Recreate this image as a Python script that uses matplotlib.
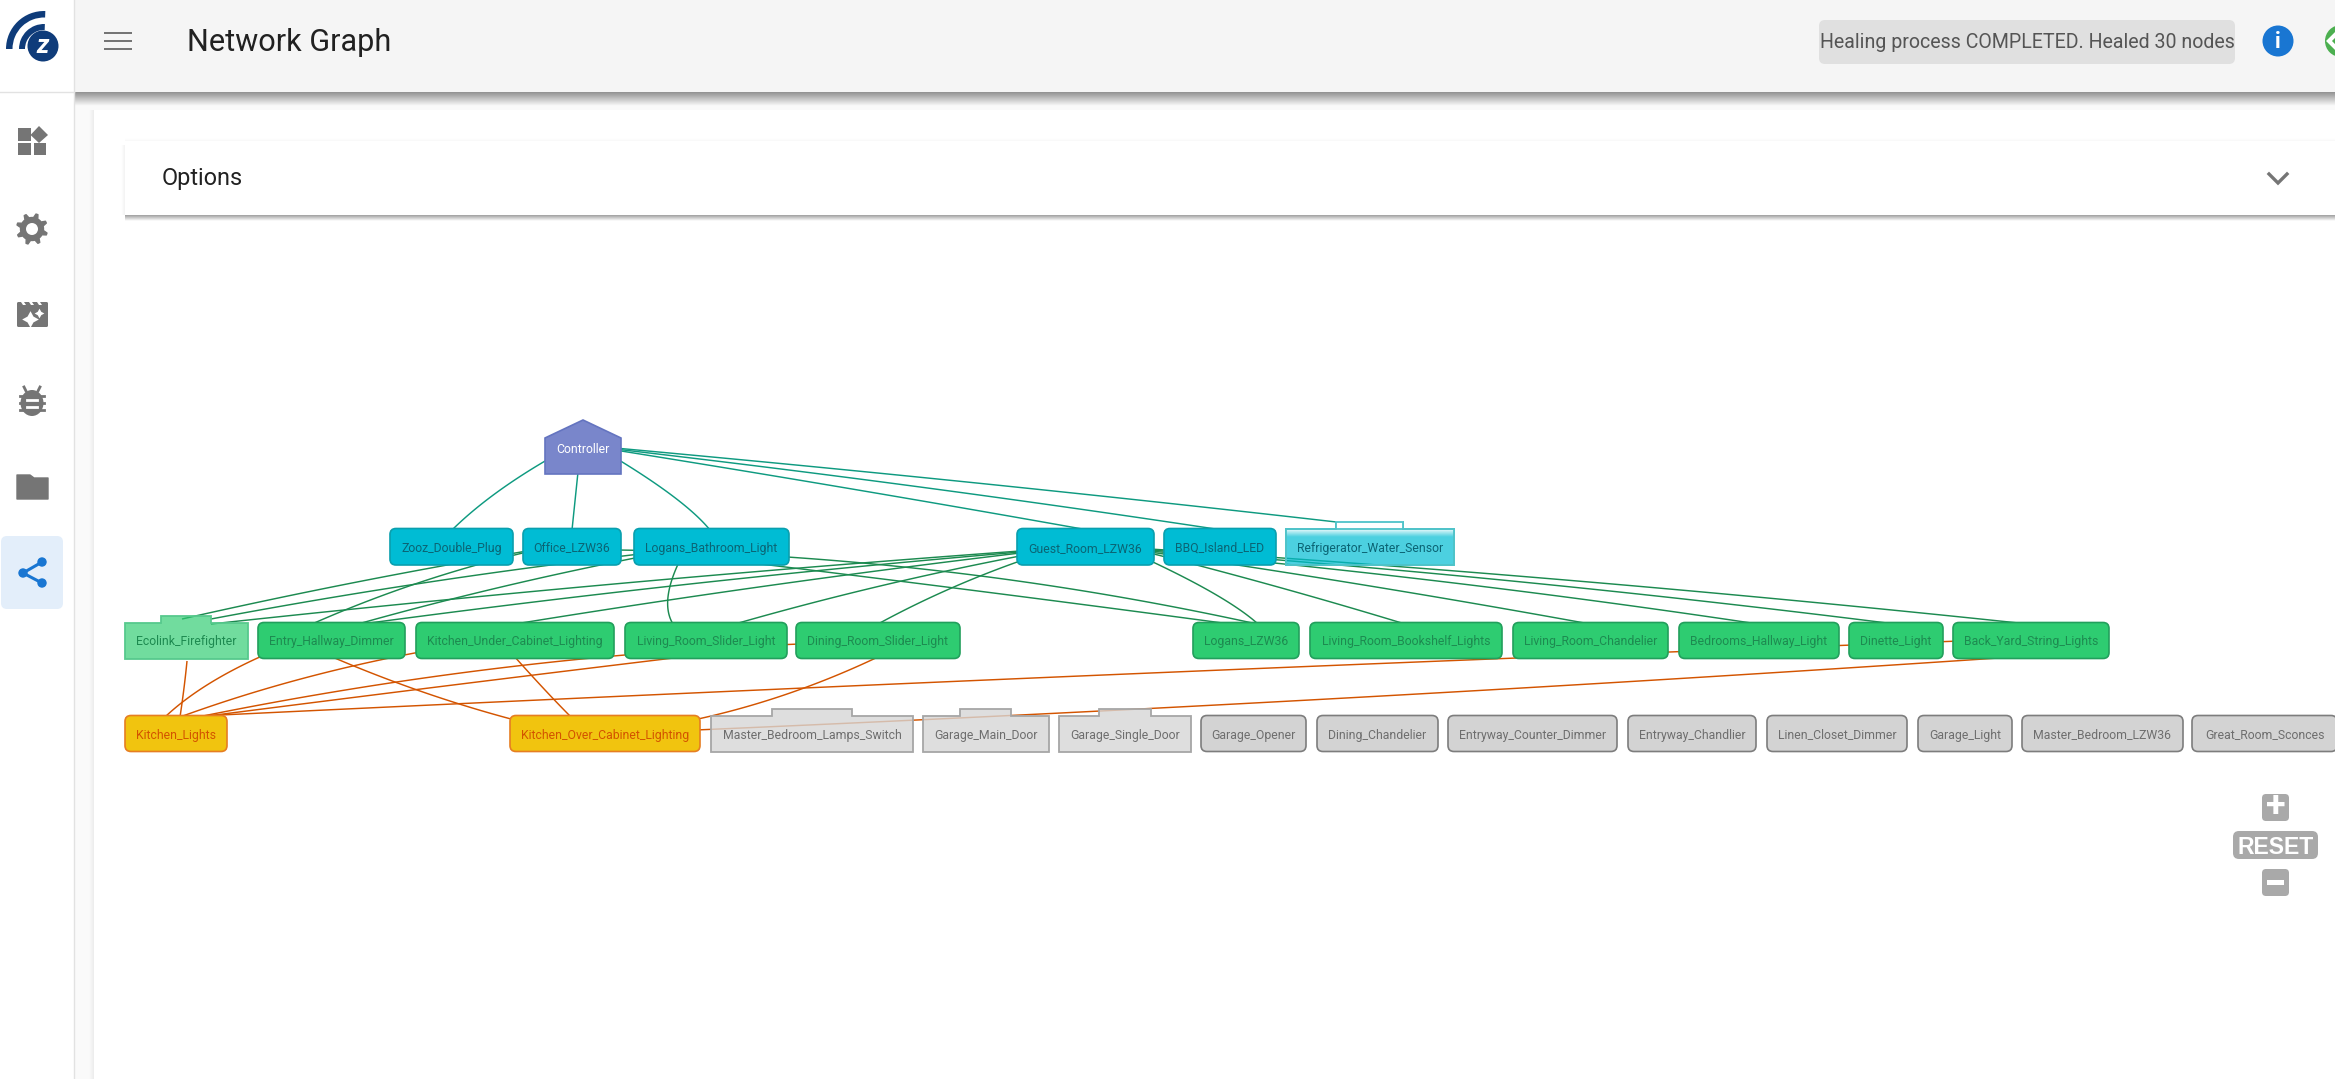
import numpy as np
import matplotlib
matplotlib.use("Agg")
import matplotlib.pyplot as plt
from matplotlib.patches import FancyBboxPatch, Rectangle, Polygon, Circle, Wedge, Ellipse

plt.rcParams['font.family'] = ['Roboto', 'DejaVu Sans']

W, H = 2335, 1079

# ---------- data ----------
ROW_Y = {1: (528.5, 565), 2: (622.5, 658.5), 3: (715.5, 751.5)}
NODE_NAMES = ["Zooz_Double_Plug", "Office_LZW36", "Logans_Bathroom_Light", "Guest_Room_LZW36",
              "BBQ_Island_LED", "Refrigerator_Water_Sensor",
              "Ecolink_Firefighter", "Entry_Hallway_Dimmer", "Kitchen_Under_Cabinet_Lighting",
              "Living_Room_Slider_Light", "Dining_Room_Slider_Light", "Logans_LZW36",
              "Living_Room_Bookshelf_Lights", "Living_Room_Chandelier", "Bedrooms_Hallway_Light",
              "Dinette_Light", "Back_Yard_String_Lights",
              "Kitchen_Lights", "Kitchen_Over_Cabinet_Lighting", "Master_Bedroom_Lamps_Switch",
              "Garage_Main_Door", "Garage_Single_Door", "Garage_Opener", "Dining_Chandelier",
              "Entryway_Counter_Dimmer", "Entryway_Chandlier", "Linen_Closet_Dimmer", "Garage_Light",
              "Master_Bedroom_LZW36", "Great_Room_Sconces"]
NODE_LEFT = [390, 523, 634, 1017, 1164, 1286,
             125, 258, 416, 625, 796, 1193, 1310, 1513, 1679, 1849, 1953,
             125, 510, 711, 923, 1059, 1201, 1317, 1448, 1628, 1767, 1918, 2022, 2192]
NODE_RIGHT = [513, 621, 789, 1154, 1276, 1454,
              248, 405, 614, 787, 960, 1299, 1502, 1668, 1839, 1943, 2109,
              227, 700, 913, 1049, 1191, 1306, 1438, 1617, 1756, 1907, 2012, 2183, 2337]
NODE_ROW = [1]*6 + [2]*11 + [3]*13
NODE_KIND = ["cyan"]*5 + ["cyanf"] + ["greenf"] + ["green"]*10 + ["yellow"]*2 + ["grayf"]*3 + ["gray"]*8
FOLDER_TAB = {"Refrigerator_Water_Sensor": (1336, 1403), "Ecolink_Firefighter": (161, 211),
              "Master_Bedroom_Lamps_Switch": (772, 852), "Garage_Main_Door": (960, 1011),
              "Garage_Single_Door": (1099, 1151)}

CTRL = "Controller"
# edges: kind, source, target, visible start, point halfway along, visible end
EDGES = [
    ("teal", CTRL, "Zooz_Double_Plug", (552, 457), (496, 493), (452, 530)),
    ("teal", CTRL, "Office_LZW36", (578, 472), (575, 501), (572, 530)),
    ("teal", CTRL, "Logans_Bathroom_Light", (614, 457), (674, 497), (710, 530)),
    ("teal", CTRL, "Guest_Room_LZW36", (615, 450), (852, 489), (1088, 530)),
    ("teal", CTRL, "BBQ_Island_LED", (615, 449), (920, 487), (1222, 530)),
    ("teal", CTRL, "Refrigerator_Water_Sensor", (615, 448), (996, 485), (1371, 526)),
    ("green", "Ecolink_Firefighter", "Office_LZW36", (182, 619), (352, 583), (527, 551)),
    ("green", "Entry_Hallway_Dimmer", "Office_LZW36", (312, 624), (418, 583), (527, 552)),
    ("green", "Ecolink_Firefighter", "Logans_Bathroom_Light", (211, 619), (423, 583), (640, 554)),
    ("green", "Entry_Hallway_Dimmer", "Logans_Bathroom_Light", (358, 624), (497, 588), (640, 557)),
    ("green", "Ecolink_Firefighter", "Guest_Room_LZW36", (211, 624), (614, 584), (1020, 551)),
    ("green", "Entry_Hallway_Dimmer", "Guest_Room_LZW36", (362, 624), (690, 584), (1020, 552)),
    ("green", "Kitchen_Under_Cabinet_Lighting", "Guest_Room_LZW36", (515, 624), (766, 586), (1020, 553)),
    ("green", "Living_Room_Slider_Light", "Guest_Room_LZW36", (735, 624), (876, 587), (1020, 556)),
    ("green", "Dining_Room_Slider_Light", "Guest_Room_LZW36", (878, 624), (947, 590), (1020, 561)),
    ("green", "Logans_Bathroom_Light", "Living_Room_Slider_Light", (680, 560), (668, 597), (673, 624)),
    ("green", "Office_LZW36", "Logans_LZW36", (618, 550), (940, 571), (1257, 624)),
    ("green", "Logans_Bathroom_Light", "Logans_LZW36", (711, 558), (970, 590), (1230, 624)),
    ("green", "Guest_Room_LZW36", "Logans_LZW36", (1140, 556), (1213, 593), (1258, 624)),
    ("green", "Guest_Room_LZW36", "Living_Room_Bookshelf_Lights", (1150, 553), (1278, 587), (1405, 624)),
    ("green", "Guest_Room_LZW36", "Living_Room_Chandelier", (1150, 552), (1370, 586), (1590, 624)),
    ("green", "Guest_Room_LZW36", "Bedrooms_Hallway_Light", (1150, 551), (1454, 583), (1758, 624)),
    ("green", "Guest_Room_LZW36", "Dinette_Light", (1150, 550), (1522, 582), (1895, 624)),
    ("green", "Guest_Room_LZW36", "Back_Yard_String_Lights", (1150, 549), (1589, 582), (2028, 624)),
    ("orange", "Ecolink_Firefighter", "Kitchen_Lights", (187, 661), (184, 688), (180, 717)),
    ("orange", "Entry_Hallway_Dimmer", "Kitchen_Lights", (262, 656), (207, 685), (165, 717)),
    ("orange", "Kitchen_Under_Cabinet_Lighting", "Kitchen_Lights", (420, 652), (297, 680), (180, 717)),
    ("orange", "Dining_Room_Slider_Light", "Kitchen_Lights", (800, 644), (500, 668), (198, 717)),
    ("orange", "Living_Room_Slider_Light", "Kitchen_Lights", (690, 656), (445, 686), (200, 717)),
    ("orange", "Back_Yard_String_Lights", "Kitchen_Lights", (1960, 641), (1080, 676), (200, 716)),
    ("orange", "Back_Yard_String_Lights", "Kitchen_Over_Cabinet_Lighting", (2028, 656), (1364, 697), (696, 730)),
    ("orange", "Entry_Hallway_Dimmer", "Kitchen_Over_Cabinet_Lighting", (330, 656), (420, 691), (511, 719)),
    ("orange", "Kitchen_Under_Cabinet_Lighting", "Kitchen_Over_Cabinet_Lighting", (514, 656), (545, 690), (571, 717)),
    ("orange", "Dining_Room_Slider_Light", "Kitchen_Over_Cabinet_Lighting", (880, 656), (790, 693), (698, 719)),
]

EDGE_COLOR = {"teal": "#0e9a80", "green": "#1c8a50", "orange": "#d35400"}
NODE_STYLE = {  # fill, border, text, alpha
    "cyan": ("#00bcd4", "#0a9fae", "#0b6474", 1.0),
    "cyanf": ("#00bcd4", "#4fc3c9", "#0b6474", 0.70),
    "green": ("#2ecc71", "#229f5c", "#1d8a50", 1.0),
    "greenf": ("#2ecc71", "#57c98d", "#1d8a50", 0.68),
    "yellow": ("#f1c40f", "#e67e22", "#d35400", 1.0),
    "gray": ("#d3d3d3", "#7d7d7d", "#6e6e6e", 1.0),
    "grayf": ("#d6d6d6", "#a6a6a6", "#6e6e6e", 0.80),
}
PX = 0.72  # font points per pixel at dpi 100
NODE_FS = 12.3 * PX

fig = plt.figure(figsize=(W / 100, H / 100), dpi=100, facecolor="white")
ax = fig.add_axes([0, 0, 1, 1])
ax.axis("off")


def rrect(x0, y0, x1, y1, r, fc, ec="none", lw=0, z=1, alpha=None):
    p = FancyBboxPatch((x0, y0), x1 - x0, y1 - y0, boxstyle=f"round,pad=0,rounding_size={r}",
                       fc=fc, ec=ec, lw=lw, zorder=z, alpha=alpha)
    ax.add_patch(p)
    return p


def grad(x0, y0, x1, y1, a0, a1, z, vertical=True, col=(0, 0, 0)):
    n = 32
    t = np.linspace(a0, a1, n)
    arr = np.zeros((n, 1, 4)) if vertical else np.zeros((1, n, 4))
    arr[..., 0], arr[..., 1], arr[..., 2] = col
    arr[..., 3] = t[:, None] if vertical else t[None, :]
    ax.imshow(arr, extent=(x0, x1, y1, y0), aspect="auto", zorder=z, interpolation="bilinear")


# ---------- page chrome ----------
ax.add_patch(Rectangle((74, 92), W - 74, H - 92, fc="#fafafa", ec="none", zorder=0))
ax.add_patch(Rectangle((94, 110), W - 94, H - 110, fc="white", ec="none", zorder=0.2))
grad(89, 110, 94, H, 0, 0.06, 0.1, vertical=False)
ax.add_patch(Rectangle((75, 0), W - 75, 92, fc="#f5f5f5", ec="none", zorder=5))
grad(75, 92, W, 106, 0.42, 0, 4.9)
ax.plot([74, 74], [0, H], color="#e2e2e2", lw=1, zorder=6)
ax.plot([0, 74], [92, 92], color="#e2e2e2", lw=1, zorder=6)

# options card
grad(125, 215, W, 221, 0.38, 0, 0.3)
rrect(125, 141, W - 1, 215, 5, "white", z=0.4)
grad(125, 138, W, 141, 0, 0.03, 0.3)
grad(121, 145, 125, 215, 0, 0.05, 0.3, vertical=False)
ax.text(162, 179, "Options", fontsize=23.5 * PX, color="#212121", va="center", ha="left", zorder=6)
ax.plot([2269, 2278, 2287], [174, 183, 174], color="#757575", lw=2.4, zorder=6, solid_joinstyle="miter")

# title bar
ax.text(187, 42.5, "Network Graph", fontsize=30.6 * PX, color="#212121", va="center", ha="left", zorder=6)
for yy in (33, 41, 49):
    ax.add_patch(Rectangle((104, yy - 1.2), 28, 2.4, fc="#757575", ec="none", zorder=6))
rrect(1819, 20, 2235, 64, 6, "#e0e0e0", z=6)
ax.text(2027, 42, "Healing process COMPLETED. Healed 30 nodes", fontsize=19.7 * PX, color="#555555",
        va="center", ha="center", zorder=7)
ax.add_patch(Circle((2278, 41), 15.5, fc="#1976d2", ec="none", zorder=6))
ax.text(2278, 42, "i", fontsize=22 * PX, color="white", weight="bold", va="center", ha="center", zorder=7)
ax.add_patch(Circle((2341, 41), 16, fc="#4caf50", ec="none", zorder=6))
ax.plot([2335, 2329, 2335], [35, 41, 47], color="white", lw=3, zorder=7, solid_joinstyle="miter")

# logo
LOGO = "#0f3c7a"
ax.add_patch(Wedge((44, 49), 38, 180, 272, width=6.5, fc=LOGO, ec="none", zorder=6))
ax.add_patch(Wedge((44, 49), 25, 180, 272, width=6, fc=LOGO, ec="none", zorder=6))
ax.add_patch(Circle((43, 46), 15.5, fc=LOGO, ec="none", zorder=6))
ax.text(43, 46, "z", fontsize=25 * PX, color="white", weight="bold", style="italic",
        va="center", ha="center", zorder=7)

# sidebar icons
IC = "#757575"
for b in [(18, 128, 31, 141), (18, 143, 31, 155), (34, 143, 46, 155)]:
    ax.add_patch(Rectangle((b[0], b[1]), b[2] - b[0], b[3] - b[1], fc=IC, ec="none", zorder=6))
ax.add_patch(Polygon([(39, 126), (48, 135), (39, 143), (30.5, 135)], fc=IC, ec="none", zorder=6))
# gear
ang = np.linspace(0, 2 * np.pi, 49)[:-1] + np.pi / 8 - np.pi / 24
rad = np.array(([15.5, 15.5, 11.5, 11.5, 11.5, 11.5] * 8)[:48])
ax.add_patch(Polygon(np.c_[32 + rad * np.cos(ang), 229 + rad * np.sin(ang)], fc=IC, ec=IC, lw=1,
                     joinstyle="round", zorder=6))
ax.add_patch(Circle((32, 229), 6, fc="white", ec="none", zorder=7))
# movie
rrect(17, 302, 48, 327, 1.5, IC, z=6)
for xs in (21, 29, 37):
    ax.add_patch(Polygon([(xs, 302), (xs + 3, 302), (xs + 5, 305), (xs + 2, 305)], fc="white", ec="none", zorder=7))
ax.plot([30], [319], marker=(4, 1, 0), ms=12, color="white", mec="none", zorder=7)
ax.plot([39], [313], marker=(4, 1, 0), ms=7, color="white", mec="none", zorder=7)
# bug
ax.add_patch(Ellipse((32, 403), 23, 26, fc=IC, ec="none", zorder=6))
for yy in (396, 403, 410):
    ax.plot([20, 44], [yy, yy], color=IC, lw=2, zorder=6)
for yy in (399.5, 406.5):
    ax.plot([27, 37], [yy, yy], color="white", lw=2, zorder=7)
ax.plot([26, 24], [391, 387], color=IC, lw=2, zorder=6)
ax.plot([38, 40], [391, 387], color=IC, lw=2, zorder=6)
# folder
ax.add_patch(Polygon([(17, 475), (30, 475), (34, 478), (48, 478), (48, 499), (17, 499)], fc=IC, ec=IC,
                     lw=1, joinstyle="round", zorder=6))
# share
rrect(1, 536, 63, 609, 6, "#e3eefa", z=6)
BL = "#1976d2"
ax.plot([42, 23, 42], [562, 573, 583], color=BL, lw=2.2, zorder=7)
for c in [(42, 562), (23, 573), (42, 583)]:
    ax.add_patch(Circle(c, 4.7, fc=BL, ec="none", zorder=7))

# ---------- edges ----------
ts = np.linspace(0, 1, 60)[:, None]
for kind, _src, _dst, p0, pm, p1 in EDGES:
    p0, pm, p1 = np.array(p0, float), np.array(pm, float), np.array(p1, float)
    c = 2 * pm - 0.5 * (p0 + p1)
    q = (1 - ts) ** 2 * p0 + 2 * ts * (1 - ts) * c + ts ** 2 * p1
    ax.plot(q[:, 0], q[:, 1], color=EDGE_COLOR[kind], lw=1.05, zorder=2, solid_capstyle="butt")

# ---------- nodes ----------
for name, x0, x1, row, kind in zip(NODE_NAMES, NODE_LEFT, NODE_RIGHT, NODE_ROW, NODE_KIND):
    y0, y1 = ROW_Y[row]
    fc, ec, tc, alpha = NODE_STYLE[kind]
    if name in FOLDER_TAB:
        t0, t1 = FOLDER_TAB[name]
        top = y0 - 6.5
        pts = [(x0, y1), (x0, y0), (t0, y0), (t0, top), (t1, top), (t1, y0), (x1, y0), (x1, y1)]
        ax.add_patch(Polygon(pts, closed=True, fc=matplotlib.colors.to_rgba(fc, alpha),
                             ec=ec, lw=1.3, zorder=3, joinstyle="miter"))
        if name == "Refrigerator_Water_Sensor":
            grad(t0, top, t1, y0 + 1, 1, 1, 3.05, col=(1, 1, 1))
            grad(x0, y0, x1, y0 + 9, 1, 0, 3.05, col=(1, 1, 1))
            ax.add_patch(Polygon(pts, closed=True, fc="none", ec=ec, lw=1.3, zorder=3.1, joinstyle="miter"))
            ax.plot([x0, x1], [y0, y0], color=ec, lw=1.3, zorder=3.1)
    else:
        rrect(x0, y0, x1, y1, 6, fc, ec, 1.2, z=3)
    ax.text((x0 + x1) / 2, (y0 + y1) / 2 + 1.5, name, fontsize=NODE_FS, color=tc, va="center", ha="center", zorder=4)

# controller
ctrl_x0, ctrl_x1, ctrl_top, ctrl_sh, ctrl_bot = 545, 621, 420, 438, 474
ax.add_patch(Polygon([(ctrl_x0, ctrl_bot), (ctrl_x0, ctrl_sh), ((ctrl_x0 + ctrl_x1) / 2, ctrl_top),
                      (ctrl_x1, ctrl_sh), (ctrl_x1, ctrl_bot)], fc="#7986cb", ec="#6474c0", lw=1.2, zorder=3))
ax.text(583, 449.5, CTRL, fontsize=NODE_FS, color="white", va="center", ha="center", zorder=4)

# zoom controls
BTN = "#a9a9a9"
rrect(2262, 794, 2289, 821, 4, BTN, z=3)
ax.text(2275.5, 807, "+", fontsize=36 * PX, color="white", weight="bold", va="center", ha="center", zorder=4)
rrect(2233, 831, 2318, 859, 6, BTN, z=3)
ax.text(2275.5, 848, "RESET", fontsize=23 * PX, color="white", weight="bold", va="center", ha="center", zorder=4,
        family=["Liberation Sans", "DejaVu Sans"])
rrect(2262, 869, 2289, 896, 4, BTN, z=3)
ax.add_patch(Rectangle((2267, 880), 17, 5, fc="white", ec="none", zorder=4))

ax.set_xlim(0, W)
ax.set_ylim(H, 0)
fig.savefig("out.png", dpi=100, facecolor="white")
